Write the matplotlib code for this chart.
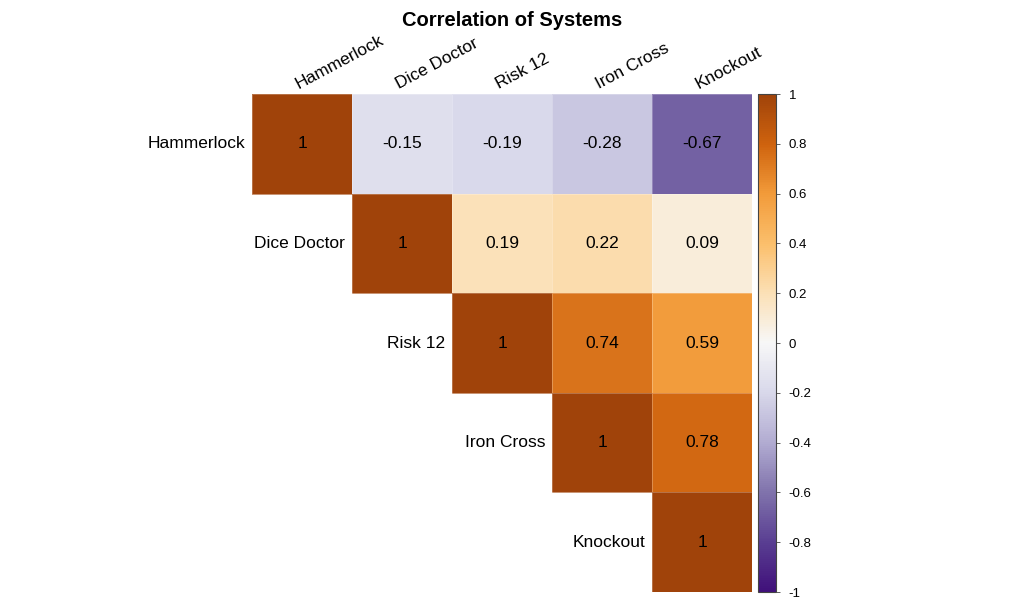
import numpy as np
import matplotlib.pyplot as plt
from matplotlib.colors import LinearSegmentedColormap

plt.rcParams['font.family'] = ['Liberation Sans', 'DejaVu Sans']

systems = ["Hammerlock", "Dice Doctor", "Risk 12", "Iron Cross", "Knockout"]
# upper triangle of the correlation matrix (row-wise)
row_hammerlock = [1, -0.15, -0.19, -0.28, -0.67]
row_dice_doctor = [1, 0.19, 0.22, 0.09]
row_risk12 = [1, 0.74, 0.59]
row_iron_cross = [1, 0.78]
row_knockout = [1]
rows = [row_hammerlock, row_dice_doctor, row_risk12, row_iron_cross, row_knockout]

n = len(systems)
corr = np.full((n, n), np.nan)
for i, r in enumerate(rows):
    corr[i, i:] = r
masked = np.ma.masked_invalid(corr)

cmap = LinearSegmentedColormap.from_list("puor", [
    (0.0, "#40107a"),
    (0.1, "#5a3f92"),
    (0.2, "#8073ac"),
    (0.3, "#b2acd2"),
    (0.4, "#d8d8ea"),
    (0.5, "#f7f7f7"),
    (0.6, "#fbe0b6"),
    (0.7, "#fbbf6c"),
    (0.8, "#f29b3a"),
    (0.9, "#cf630e"),
    (1.0, "#a0430a"),
])

fig = plt.figure(figsize=(10.24, 6.14), dpi=100)
ax = fig.add_axes([0.2461, 0.0358, 0.4883, 0.8111])
mesh = ax.pcolormesh(np.arange(n + 1), np.arange(n + 1), masked, cmap=cmap,
                     vmin=-1, vmax=1, edgecolor=(1, 1, 1, 0.25), linewidth=0.5)
ax.set_xlim(0, n)
ax.set_ylim(n, 0)
ax.axis('off')

for i in range(n):
    for j in range(i, n):
        v = corr[i, j]
        txt = "1" if v == 1 else f"{v:g}"
        ax.text(j + 0.5, i + 0.5, txt, ha='center', va='center', fontsize=12.5, color='black')
    # row label beside the diagonal cell
    ax.text(i - 0.07, i + 0.5, systems[i], ha='right', va='center', fontsize=12.5)
    # column label above the top row
    ax.text(i + 0.48, -0.02, systems[i], ha='left', va='bottom', fontsize=12.5,
            rotation=28, rotation_mode='anchor')

fig.text(0.5, 0.967, "Correlation of Systems", ha='center', va='center',
         fontsize=14.5, fontweight='bold')

cax = fig.add_axes([0.7402, 0.0358, 0.0176, 0.8111])
cb = fig.colorbar(mesh, cax=cax)
ticks = np.round(np.arange(-1, 1.01, 0.2), 1)
cb.set_ticks(ticks)
cb.set_ticklabels([f"{t:g}" if t != 0 else "0" for t in ticks])
cb.ax.tick_params(labelsize=9.5, length=3, width=0.6, color='#444444', pad=6)
cb.outline.set_edgecolor('#444444')
cb.outline.set_linewidth(0.8)

fig.savefig("out.png", dpi=100)
